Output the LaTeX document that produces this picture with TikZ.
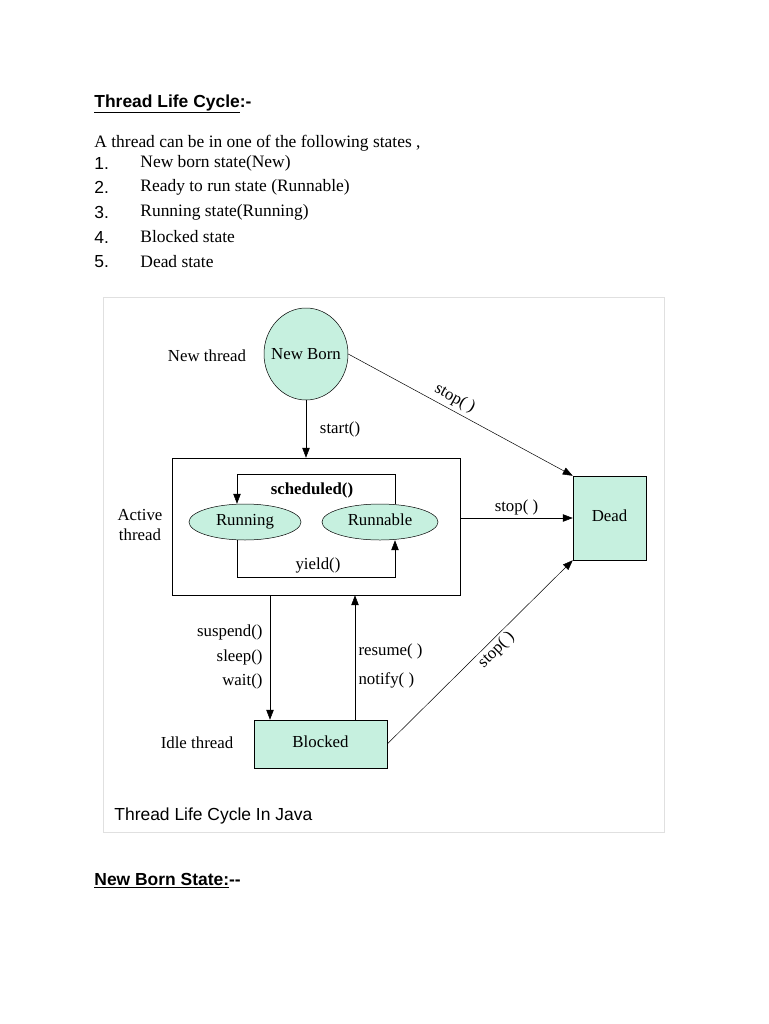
\documentclass[tikz,border=0pt]{standalone}
\usepackage{fontspec}
\setmainfont{Liberation Serif}
\setsansfont{Liberation Sans}
\usetikzlibrary{arrows.meta,shapes.geometric}
\definecolor{mint}{HTML}{C6F0DF}
\tikzset{
    state/.style={draw, fill=mint, inner sep=0pt, text height=1.6ex, text depth=.3ex},
    lbl/.style={font=\fontsize{13.5}{16}\selectfont, inner sep=1pt},
    arr/.style={-{Triangle[length=8pt,width=6pt]}},
}
\begin{document}
\begin{tikzpicture}[x=0.0282cm, y=-0.0282cm, font=\fontsize{14}{17}\selectfont]

        \useasboundingbox (0,0) rectangle (768,1024);

        % Header text
        \node[anchor=west, font=\fontsize{14}{17}\selectfont\sffamily\bfseries] (title) at (90,104) {\underline{Thread Life Cycle}:-};
        \node[anchor=west] (intro) at (90,143) {A thread can be in one of the following states ,};
        \foreach \n/\y/\t in {1/163/New born state(New), 2/187/Ready to run state (Runnable),
                3/212/Running state(Running), 4/237/Blocked state, 5/262/Dead state}{
            \node[anchor=west, font=\fontsize{14}{17}\selectfont\sffamily] (num\n) at (90,\y) {\n.};
            \node[anchor=west] (item\n) at (136,\y) {\t};
        }

        % Frame
        \draw[black!12] (103,297) rectangle (664,832);

        % States
        \node[state, ellipse, minimum width=84*0.0282cm, minimum height=92*0.0282cm] (newborn) at (306,354) {};
        \node[lbl] at (newborn) {New Born};
        \node[draw, minimum width=288*0.0282cm, minimum height=137*0.0282cm] (active) at (316,526.5) {};
        \node[state, ellipse, minimum width=112*0.0282cm, minimum height=36*0.0282cm, lbl] (running) at (245,522) {Running};
        \node[state, ellipse, minimum width=116*0.0282cm, minimum height=36*0.0282cm, lbl] (runnable) at (380,522) {Runnable};
        \node[state, minimum width=73*0.0282cm, minimum height=84*0.0282cm, lbl] (dead) at (609.5,518) {Dead};
        \node[state, minimum width=133*0.0282cm, minimum height=48*0.0282cm, lbl] (blocked) at (320.5,744) {Blocked};

        % Side labels
        \node[lbl] at (207,356) {New thread};
        \node[lbl, align=center] at (140,525) {Active\\thread};
        \node[lbl] at (197,743) {Idle thread};

        % Transitions
        \draw[arr] (newborn.south) -- (active.north -| newborn.south) node[lbl, midway, right=10pt] {start()};
        \draw[arr] (newborn.east) -- (dead.north west) node[lbl, pos=0.45, above=2pt, sloped] {stop( )};
        \draw[arr] (active.east |- dead.west) -- (dead.west) node[lbl, midway, above=1pt] {stop( )};
        \draw[arr] (blocked.east) -- (dead.south west) node[lbl, pos=0.55, below=1pt, sloped] {stop( )};

        \coordinate (rb top) at (395,0 |- runnable.north);
        \coordinate (rn top) at (237,0 |- running.north);
        \draw[arr] (rb top) -- ++(0,-30) -| (rn top);
        \node[lbl, font=\fontsize{13.5}{16}\selectfont\bfseries] at (312,490) {scheduled()};
        \coordinate (rn bot) at (237,0 |- running.south);
        \coordinate (rb bot) at (395,0 |- runnable.south);
        \draw[arr] (rn bot) -- ++(0,37) -| (rb bot);
        \node[lbl] at (318,565) {yield()};

        \coordinate (susp top) at (270,0 |- active.south);
        \coordinate (susp bot) at (270,0 |- blocked.north);
        \draw[arr] (susp top) -- (susp bot);
        \node[lbl, anchor=east, align=right] at (264,657) {suspend()\\[4pt]sleep()\\[4pt]wait()};
        \coordinate (res bot) at (355,0 |- blocked.north);
        \coordinate (res top) at (355,0 |- active.south);
        \draw[arr] (res bot) -- (res top);
        \node[lbl, anchor=west, align=left] at (357,666) {resume( )\\[8pt]notify( )};

        % Caption
        \node[anchor=west, font=\fontsize{14}{17}\selectfont\sffamily] (caption) at (110,816) {Thread Life Cycle In Java};

        % Next heading
        \node[anchor=west, font=\fontsize{14}{17}\selectfont\sffamily\bfseries] (next) at (90,881) {\underline{New Born State:}-{}-};

\end{tikzpicture}
\end{document}
